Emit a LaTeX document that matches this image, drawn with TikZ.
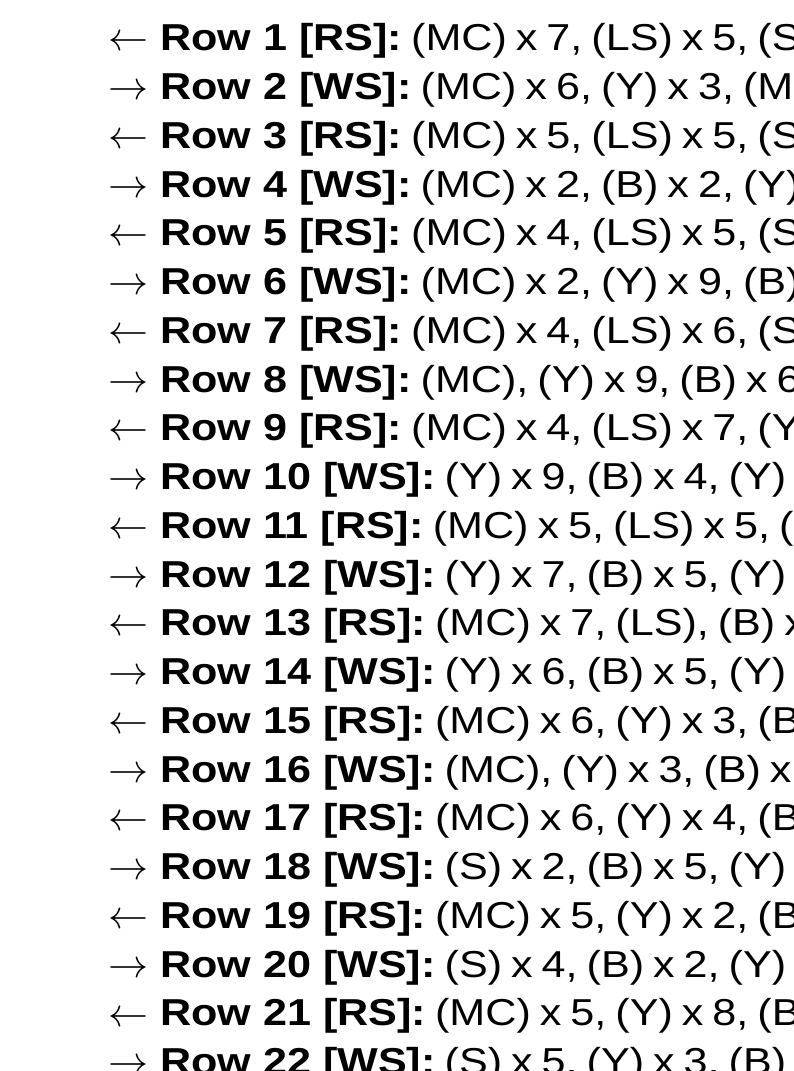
\documentclass[tikz,border=0pt]{standalone}
\usepackage{graphicx}
\usepackage{fontspec}
\setmainfont{Liberation Sans}[FakeStretch=1.15]
\newcommand{\larr}{\resizebox{40pt}{!}{$\leftarrow$}}
\newcommand{\rarr}{\resizebox{40pt}{!}{$\rightarrow$}}
\begin{document}
\begin{tikzpicture}[x=1pt,y=1pt,
  rowtxt/.style={anchor=base west,inner sep=0pt,font=\fontsize{37.5}{40}\selectfont}]
\useasboundingbox (0,0) rectangle (794,1071);
\clip (0,0) rectangle (794,1071);
\foreach \i/\d/\t/\rest in {
1/L/RS/{(MC) x 7, (LS) x 5, (S)},
2/R/WS/{(MC) x 6, (Y) x 3, (MC)},
3/L/RS/{(MC) x 5, (LS) x 5, (S)},
4/R/WS/{(MC) x 2, (B) x 2, (Y),},
5/L/RS/{(MC) x 4, (LS) x 5, (S)},
6/R/WS/{(MC) x 2, (Y) x 9, (B),},
7/L/RS/{(MC) x 4, (LS) x 6, (S)},
8/R/WS/{(MC), (Y) x 9, (B) x 6,},
9/L/RS/{(MC) x 4, (LS) x 7, (Y)},
10/R/WS/{(Y) x 9, (B) x 4, (Y) x},
11/L/RS/{(MC) x 5, (LS) x 5, (S)},
12/R/WS/{(Y) x 7, (B) x 5, (Y) x},
13/L/RS/{(MC) x 7, (LS), (B) x 2},
14/R/WS/{(Y) x 6, (B) x 5, (Y) x},
15/L/RS/{(MC) x 6, (Y) x 3, (B)},
16/R/WS/{(MC), (Y) x 3, (B) x 2},
17/L/RS/{(MC) x 6, (Y) x 4, (B)},
18/R/WS/{(S) x 2, (B) x 5, (Y) x},
19/L/RS/{(MC) x 5, (Y) x 2, (B)},
20/R/WS/{(S) x 4, (B) x 2, (Y) x},
21/L/RS/{(MC) x 5, (Y) x 8, (B)},
22/R/WS/{(S) x 5, (Y) x 3, (B) x}} {
  \pgfmathsetmacro{\yy}{1071-51-48.75*(\i-1)}
  \node[rowtxt] (r\i) at (108,\yy) {\if\d L\larr\else\rarr\fi\ \textbf{Row \i\ [\t]:}\spaceskip=9pt\ \rest};
}
\end{tikzpicture}
\end{document}
